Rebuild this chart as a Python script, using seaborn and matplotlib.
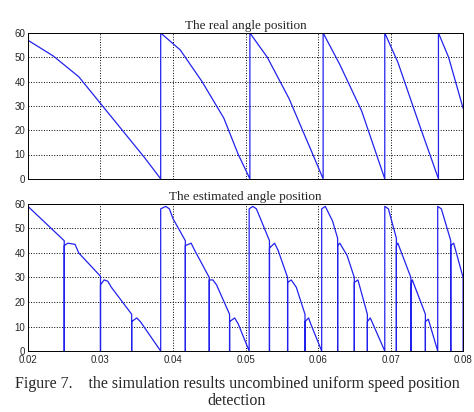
import matplotlib
matplotlib.use("Agg")
import matplotlib.pyplot as plt
import seaborn as sns
import pandas as pd

# real angle position: breakpoints
real_x = [0.02, 0.0235, 0.027, 0.030, 0.033, 0.036, 0.0383,
          0.0383, 0.041, 0.044, 0.047, 0.049, 0.0506,
          0.0506, 0.053, 0.056, 0.059, 0.0607,
          0.0607, 0.063, 0.066, 0.0692,
          0.0692, 0.071, 0.074, 0.0766,
          0.0766, 0.078, 0.080]
real_y = [57, 50.5, 42, 31, 20, 9, 0,
          60, 53, 40, 25, 10, 0,
          60, 50, 33, 12, 0,
          60, 47, 28, 0,
          60, 48, 22, 0,
          60, 50, 29]

# estimated angle position
est_x = [0.02, 0.025, 0.025, 0.025, 0.0255, 0.0265, 0.027, 0.030,
         0.030, 0.030, 0.0305, 0.031, 0.0315, 0.0343,
         0.0343, 0.0343, 0.035, 0.0355, 0.0383,
         0.0383, 0.039, 0.0395, 0.040, 0.0417,
         0.0417, 0.0417, 0.0425, 0.043, 0.045,
         0.045, 0.045, 0.0455, 0.046, 0.0478,
         0.0478, 0.0478, 0.0485, 0.049, 0.0505,
         0.0505, 0.051, 0.0515, 0.0533,
         0.0533, 0.0533, 0.054, 0.0545, 0.0558,
         0.0558, 0.0558, 0.0563, 0.057, 0.0582,
         0.0582, 0.0582, 0.0587, 0.059, 0.0605,
         0.0605, 0.061, 0.062, 0.0627,
         0.0627, 0.0627, 0.063, 0.064, 0.065,
         0.065, 0.065, 0.0655, 0.0668,
         0.0668, 0.0668, 0.0672, 0.0692,
         0.0692, 0.0697, 0.0708,
         0.0708, 0.0708, 0.071, 0.0728,
         0.0728, 0.0728, 0.073, 0.0748,
         0.0748, 0.0748, 0.0752, 0.0765,
         0.0765, 0.077, 0.0783,
         0.0783, 0.0783, 0.0787, 0.080, 0.080]
est_y = [59, 45, 0, 43, 44, 43.5, 40, 30.5,
         0, 27, 29, 28.5, 26, 15,
         0, 12, 13.5, 12, 0,
         58, 59, 58, 54, 45,
         0, 43, 44, 41, 30,
         0, 29, 29, 27, 15,
         0, 12, 13.5, 11, 0,
         58, 59, 58, 45,
         0, 42, 44, 41, 30,
         0, 28, 29, 26, 15,
         0, 12, 13.5, 11, 0,
         58, 59, 53, 46,
         0, 43, 44, 39, 30,
         0, 28, 29, 15,
         0, 12, 13.5, 0,
         59, 58, 46,
         0, 43, 44, 30,
         0, 27, 29, 15,
         0, 12, 13, 0,
         59, 58, 45,
         0, 43, 44, 30, 0]

xticks = [0.02, 0.03, 0.04, 0.05, 0.06, 0.07, 0.08]
xtick_labels = ["0.02", "0.03", "0.04", "0.05", "0.06", "0.07", "0.08"]
yticks = [0, 10, 20, 30, 40, 50, 60]

sns.set_style("white")
plt.rcParams["font.family"] = ["Liberation Sans", "DejaVu Sans"]

fig = plt.figure(figsize=(4.74, 4.12), dpi=100)
ax1 = fig.add_axes([0.059, 0.566, 0.918, 0.354])
ax2 = fig.add_axes([0.059, 0.148, 0.918, 0.357])

panels = [(ax1, real_x, real_y, "The real angle position"),
          (ax2, est_x, est_y, "The estimated angle position")]
for ax, xs, ys, title in panels:
    df = pd.DataFrame({"t": xs, "angle": ys})
    sns.lineplot(data=df, x="t", y="angle", sort=False, estimator=None,
                 color="#2222ee", linewidth=0.9, ax=ax)
    ax.set_xlim(0.02, 0.08)
    ax.set_ylim(0, 60)
    ax.set_xticks(xticks)
    ax.set_yticks(yticks)
    ax.grid(True, color="black", linestyle=":", linewidth=0.7)
    ax.set_xlabel("")
    ax.set_ylabel("")
    ax.set_title(title, family="Liberation Serif", fontsize=9.5, pad=3)
    ax.tick_params(labelsize=7, length=2, direction="in", pad=2)
    for s in ax.spines.values():
        s.set_color("black")
        s.set_linewidth(0.7)

ax1.set_xticklabels([])
ax2.set_xticklabels(xtick_labels)
ax2.tick_params(axis="x", pad=3)

fig.text(0.5, 0.058, "Figure 7.    the simulation results uncombined uniform speed position",
         ha="center", family="Liberation Serif", fontsize=11.5)
fig.text(0.5, 0.018, "detection", ha="center", family="Liberation Serif", fontsize=11.5)

fig.savefig("out.png", dpi=100)
